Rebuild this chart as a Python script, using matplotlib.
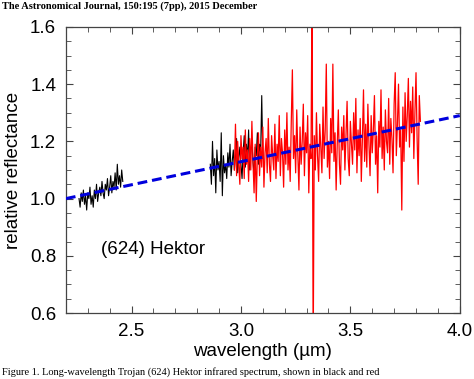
import numpy as np
import matplotlib
matplotlib.use('Agg')
import matplotlib.pyplot as plt
from matplotlib.ticker import MultipleLocator

plt.rcParams['font.family'] = ['Liberation Sans', 'DejaVu Sans']

# black spectrum, short-wavelength part (2.26 - 2.46 um)
black1_start, black1_end = 2.26, 2.46
black1_refl = [1.00, 0.97, 1.02, 0.99, 1.03, 0.98, 1.01, 0.96, 1.02, 1.00,
               1.04, 0.98, 1.01, 0.97, 1.03, 1.00, 1.05, 0.99, 1.02, 1.04,
               1.01, 1.06, 1.02, 1.00, 1.05, 1.03, 1.07, 1.01, 1.04, 1.08,
               1.02, 1.06, 1.04, 1.09, 1.03, 1.12, 1.05, 1.08, 1.04, 1.10, 1.06]

# black spectrum, 2.86 - 3.10 um
black2_start, black2_end = 2.86, 3.10
black2_refl = [1.12, 1.05, 1.20, 1.08, 1.14, 1.02, 1.17, 1.10, 1.13, 1.06,
               1.23, 1.01, 1.15, 1.09, 1.12, 1.07, 1.16, 1.11, 1.19, 1.08,
               1.13, 1.17, 1.10, 1.15, 1.21, 1.09, 1.14, 1.18, 1.12, 1.07,
               1.16, 1.22, 1.11, 1.19, 1.14, 1.24, 1.10, 1.17, 1.20, 1.13,
               1.08, 1.18, 1.15, 1.23, 1.12, 1.19, 1.16, 1.36, 1.14]

# red spectrum, 2.97 - 3.82 um
red_start, red_end = 2.97, 3.82
red_refl = [1.10, 1.26, 1.08, 1.20, 1.12, 1.05, 1.22, 1.14, 1.18, 1.07,
            1.24, 1.12, 1.17, 1.06, 1.21, 1.10, 1.27, 1.13, 1.02, 1.19,
            0.99, 1.15, 1.23, 1.08, 1.18, 1.11, 1.25, 1.04, 1.16, 1.21,
            1.09, 1.28, 1.12, 1.06, 1.22, 1.15, 1.10, 1.26, 1.07, 1.19,
            1.13, 1.29, 1.08, 1.21, 1.16, 1.04, 1.24, 1.12, 1.30, 1.10,
            1.18, 1.06, 1.27, 1.45, 1.14, 1.22, 1.09, 1.31, 1.15, 1.03,
            1.25, 1.12, 1.20, 1.33, 1.08, 1.23, 1.16, 1.29, 1.02, 1.19,
            1.14, 1.75, 0.45,
            1.22, 1.10, 1.30, 1.15, 1.06, 1.26, 1.18,
            1.09, 1.32, 1.14, 1.24, 1.47, 1.11, 1.20, 1.07, 1.28, 1.16,
            1.47, 1.13, 1.23, 1.03, 1.19, 1.31, 1.12, 1.05, 1.25, 1.17,
            1.29, 1.10, 1.22, 1.34, 1.14, 1.08, 1.27, 1.19, 1.12, 1.30,
            1.17, 1.35, 1.09, 1.24, 1.15, 1.28, 1.06, 1.21, 1.38, 1.13,
            1.26, 1.11, 1.33, 1.19, 1.08, 1.29, 1.16, 1.24, 1.36, 1.12,
            1.22, 1.02, 1.27, 1.18, 1.38, 1.14, 1.25, 1.10, 1.31, 1.20,
            1.16, 1.35, 1.12, 1.28, 1.21, 1.09, 1.33, 1.44, 1.15, 1.26,
            1.40, 1.18, 1.24, 0.96, 1.32, 1.13, 1.37, 1.20, 1.29, 1.42,
            1.18, 1.34, 1.23, 1.39, 1.14, 1.30, 1.44, 1.21, 1.05, 1.36, 1.27]

# linear continuum (blue dashed)
fit_wave = [2.2, 4.0]
fit_refl = [1.0, 1.29]

black1_wave = np.linspace(black1_start, black1_end, len(black1_refl))
black2_wave = np.linspace(black2_start, black2_end, len(black2_refl))
red_wave = np.linspace(red_start, red_end, len(red_refl))

fig = plt.figure(figsize=(4.74, 3.79), dpi=100)
ax = fig.add_axes([0.139, 0.174, 0.831, 0.755])

ax.plot(red_wave, red_refl, color='#ff0000', lw=0.9, zorder=2)
ax.plot(black1_wave, black1_refl, color='k', lw=0.8, zorder=3)
ax.plot(black2_wave, black2_refl, color='k', lw=0.8, zorder=1)
ax.plot(fit_wave, fit_refl, color='#0000dd', lw=2.2, ls=(0, (3.2, 1.6)), zorder=4)

ax.text(2.36, 0.823, '(624) Hektor', fontsize=13.5, va='center', ha='left')

ax.set_xlim(2.2, 4.0)
ax.set_ylim(0.6, 1.6)
ax.set_xticks([2.5, 3.0, 3.5, 4.0])
ax.set_yticks([0.6, 0.8, 1.0, 1.2, 1.4, 1.6])
ax.xaxis.set_minor_locator(MultipleLocator(0.1))
ax.yaxis.set_minor_locator(MultipleLocator(0.05))
ax.tick_params(which='both', direction='in', top=True, right=True,
               labelsize=13.5, color='#444444')
ax.tick_params(which='major', length=5, pad=7)
ax.tick_params(which='minor', length=3.5)
for s in ax.spines.values():
    s.set_color('#444444')
    s.set_linewidth(0.9)

ax.set_xlabel('wavelength (\u00b5m)', fontsize=13.5, labelpad=2)
ax.set_ylabel('relative reflectance', fontsize=13.5, labelpad=6)

# page header / caption fragments from the scan
fig.text(0.005, 1 - 9 / 379, 'The Astronomical Journal, 150:195 (7pp), 2015 December',
         family='Liberation Serif', fontsize=7.5, fontweight='bold', va='baseline', ha='left')
fig.text(0.005, 4 / 379, 'Figure 1. Long-wavelength Trojan (624) Hektor infrared spectrum, shown in black and red',
         family='Liberation Serif', fontsize=7.5, va='baseline', ha='left')

fig.savefig('out.png', dpi=100)
